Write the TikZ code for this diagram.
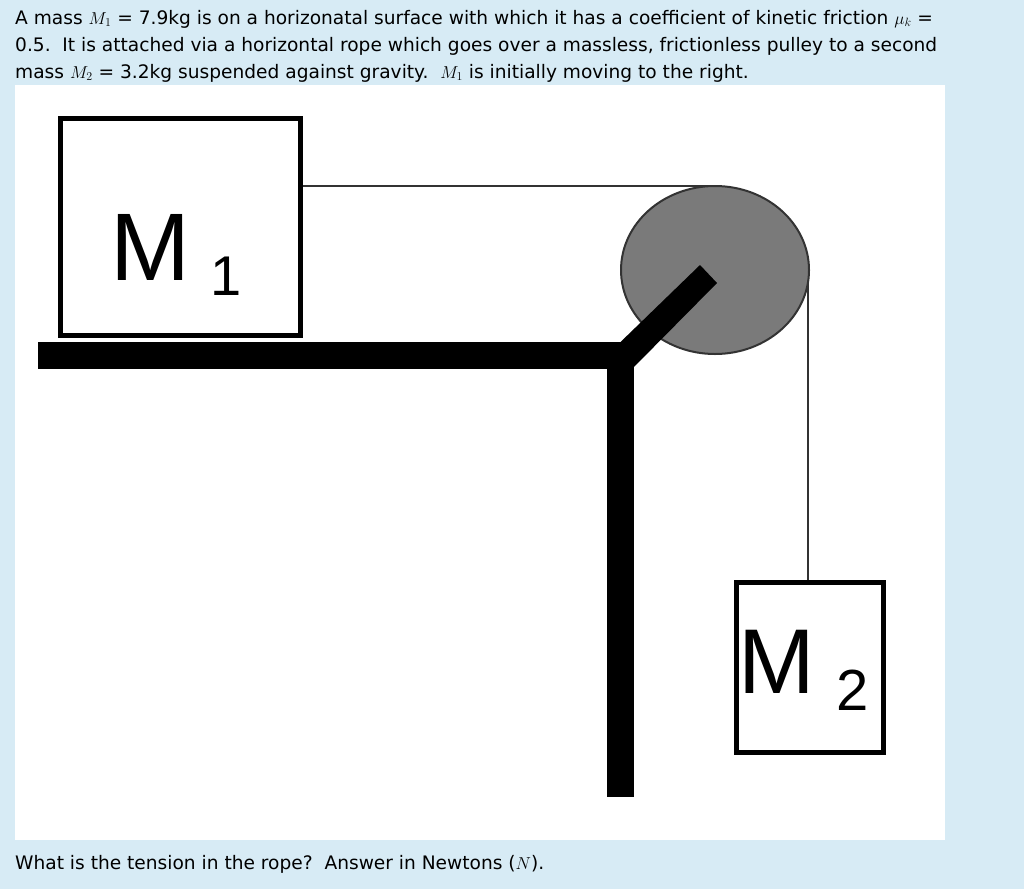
\documentclass[tikz,border=0pt]{standalone}
\usepackage{fontspec}
\setmainfont{DejaVu Sans}
\newfontfamily\lbl{Liberation Sans}
\definecolor{bgblue}{HTML}{D7EBF5}
\definecolor{pgray}{HTML}{7A7A7A}
\begin{document}
\begin{tikzpicture}[x=1pt,y=-1pt,
  txt/.style={anchor=base west,inner sep=0pt,font=\fontsize{18.6}{20}\selectfont},
  massbox/.style={draw=black,line width=5pt,fill=white},
  bar/.style={fill=black,draw=none},
  rope/.style={draw=black!80,line width=1.5pt}]
\fill[bgblue] (0,0) rectangle (1024,889);
\useasboundingbox (0,0) rectangle (1024,889);
\fill[white] (15,85) rectangle (945,840);
\node[txt] (l1) at (15,24) {A mass $M_1$ = 7.9kg is on a horizonatal surface with which it has a coefficient of kinetic friction $\mu_k$ =};
\node[txt] (l2) at (15,51) {0.5.\ \ It is attached via a horizontal rope which goes over a massless, frictionless pulley to a second};
\node[txt] (l3) at (15,78) {mass $M_2$ = 3.2kg suspended against gravity.\ \ $M_1$ is initially moving to the right.};
\node[txt] (q) at (15,869) {What is the tension in the rope?\ \ Answer in Newtons ($N$).};
% ropes
\coordinate (r1) at (300,186);
\coordinate (r2) at (715,186);
\coordinate (r3) at (808,272);
\coordinate (r4) at (808,582);
\draw[rope] (r1) -- (r2);
\draw[rope] (r3) -- (r4);
% pulley
\fill[pgray,draw=black!80,line width=2pt] (715,270) ellipse [x radius=94, y radius=84];
% support
\fill[bar] (38,342) rectangle (622,369);
\fill[bar] (607,355) rectangle (634,797);
\fill[bar] (604,358) -- (700,265) -- (717,283) -- (631,370) -- cycle;
% masses
\draw[massbox] (60,118) rectangle (300,335);
\node[inner sep=0pt,anchor=base west,font=\lbl\fontsize{96}{96}\selectfont] (m1) at (110,280) {M};
\node[inner sep=0pt,anchor=base west,font=\lbl\fontsize{56}{56}\selectfont] (s1) at (210,295) {1};
\draw[massbox] (736,582) rectangle (883,752);
\node[inner sep=0pt,anchor=base west,font=\lbl\fontsize{92}{92}\selectfont] (m2) at (738,693) {M};
\node[inner sep=0pt,anchor=base west,font=\lbl\fontsize{58}{58}\selectfont] (s2) at (836,710) {2};
\end{tikzpicture}
\end{document}
